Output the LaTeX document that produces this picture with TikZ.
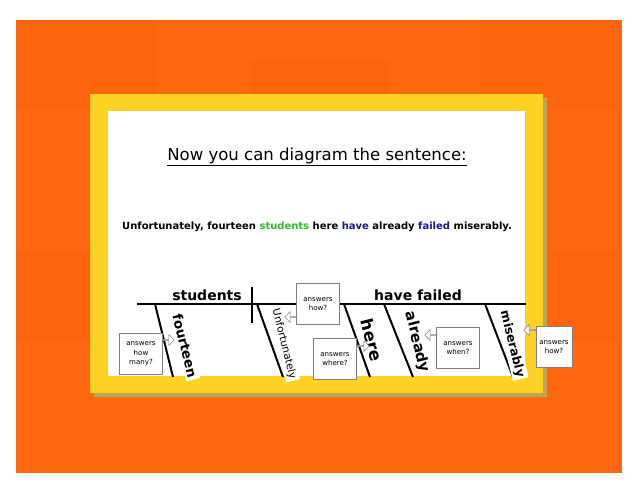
\documentclass[tikz,border=0pt]{standalone}
\usepackage{fontspec}
\setmainfont{DejaVu Sans}
\usetikzlibrary{shapes.arrows}
\definecolor{flame}{RGB}{255,104,16}
\definecolor{ember}{RGB}{250,80,8}
\definecolor{gold}{RGB}{252,210,36}
\definecolor{khaki}{RGB}{184,168,84}
\definecolor{leaf}{RGB}{48,186,48}
\definecolor{navy}{RGB}{24,24,140}

\begin{document}
\begin{tikzpicture}[x=0.75pt,y=-0.75pt,
    wordbox/.style={fill=white,inner sep=1.5pt,rotate=-76,font=\bfseries},
    askbox/.style={draw=gray,fill=white,align=center,inner sep=0pt,
      minimum width=32pt,minimum height=31pt,font=\fontsize{5.3}{7}\selectfont},
    hint/.style={single arrow,draw=gray,fill=white,inner sep=0pt,
      minimum height=9pt,minimum width=8pt,single arrow head extend=1.8pt}]
    \useasboundingbox (0,0) rectangle (638,493);
    \fill[flame] (16,20) rectangle (622,473);
    \foreach \x/\y in {16/20,250/60,480/20,16/250,250/300,480/250}
      \fill[ember,opacity=0.18] (\x,\y) rectangle ++(140,90);
    \fill[khaki] (94,98) rectangle (547,397);
    \fill[gold] (90,94) rectangle (543,393);
    \fill[white] (108,111) rectangle (525,376);

    \node (title) at (317,157) {\fontsize{12.4}{14}\selectfont\underline{Now you can diagram the sentence:}};
    \node (sentence) at (317,227) {\fontsize{7.5}{9}\selectfont\bfseries Unfortunately, fourteen
      \textcolor{leaf}{students} here \textcolor{navy}{have} already \textcolor{navy}{failed} miserably.};

    \coordinate (bl) at (137,304);
    \coordinate (br) at (526,304);
    \coordinate (dt) at (252,287);
    \coordinate (db) at (252,323);
    \draw[line width=2.2pt] (bl) -- (br);
    \draw[line width=2.2pt] (dt) -- (db);
    \node[anchor=base,font=\fontsize{10.5}{12}\selectfont\bfseries] (subject) at (207,300) {students};
    \node[anchor=base,font=\fontsize{10.5}{12}\selectfont\bfseries] (verb) at (418,300) {have failed};

    \foreach \name/\top/\bot in {fourteen/155/173,unfortunately/257/283,here/344/370,already/384/413,miserably/485/513} {
      \coordinate (\name-t) at (\top,304);
      \coordinate (\name-b) at (\bot,377);
      \draw[line width=1.5pt] (\name-t) -- (\name-b);
    }

    \node[wordbox,font=\fontsize{10}{12}\selectfont\bfseries] (w-fourteen) at (185,346) {fourteen};
    \node[wordbox,font=\fontsize{7.8}{9}\selectfont] (w-unfortunately) at (284,344) {Unfortunately};
    \node[wordbox,font=\fontsize{12.5}{14}\selectfont\bfseries] (w-here) at (372,340) {here};
    \node[wordbox,font=\fontsize{11}{13}\selectfont\bfseries] (w-already) at (417,342) {already};
    \node[wordbox,font=\fontsize{9.2}{11}\selectfont\bfseries] (w-miserably) at (512,344) {miserably};

    \node[askbox] (q-howmany) at (141,354) {answers\\how\\many?};
    \node[askbox] (q-how) at (318,304) {answers\\how?};
    \node[askbox] (q-where) at (335,359) {answers\\where?};
    \node[askbox] (q-when) at (458,348) {answers\\when?};
    \node[askbox,minimum width=27pt] (q-howright) at (554,347) {answers\\how?};

    \node[hint] (a-howmany) at (168,340) {};
    \node[hint,shape border rotate=180] (a-how) at (291,317) {};
    \node[hint] (a-where) at (363,346) {};
    \node[hint,shape border rotate=180] (a-when) at (431,335) {};
    \node[hint,shape border rotate=180] (a-howright) at (530,330) {};
  \end{tikzpicture}
\end{document}
